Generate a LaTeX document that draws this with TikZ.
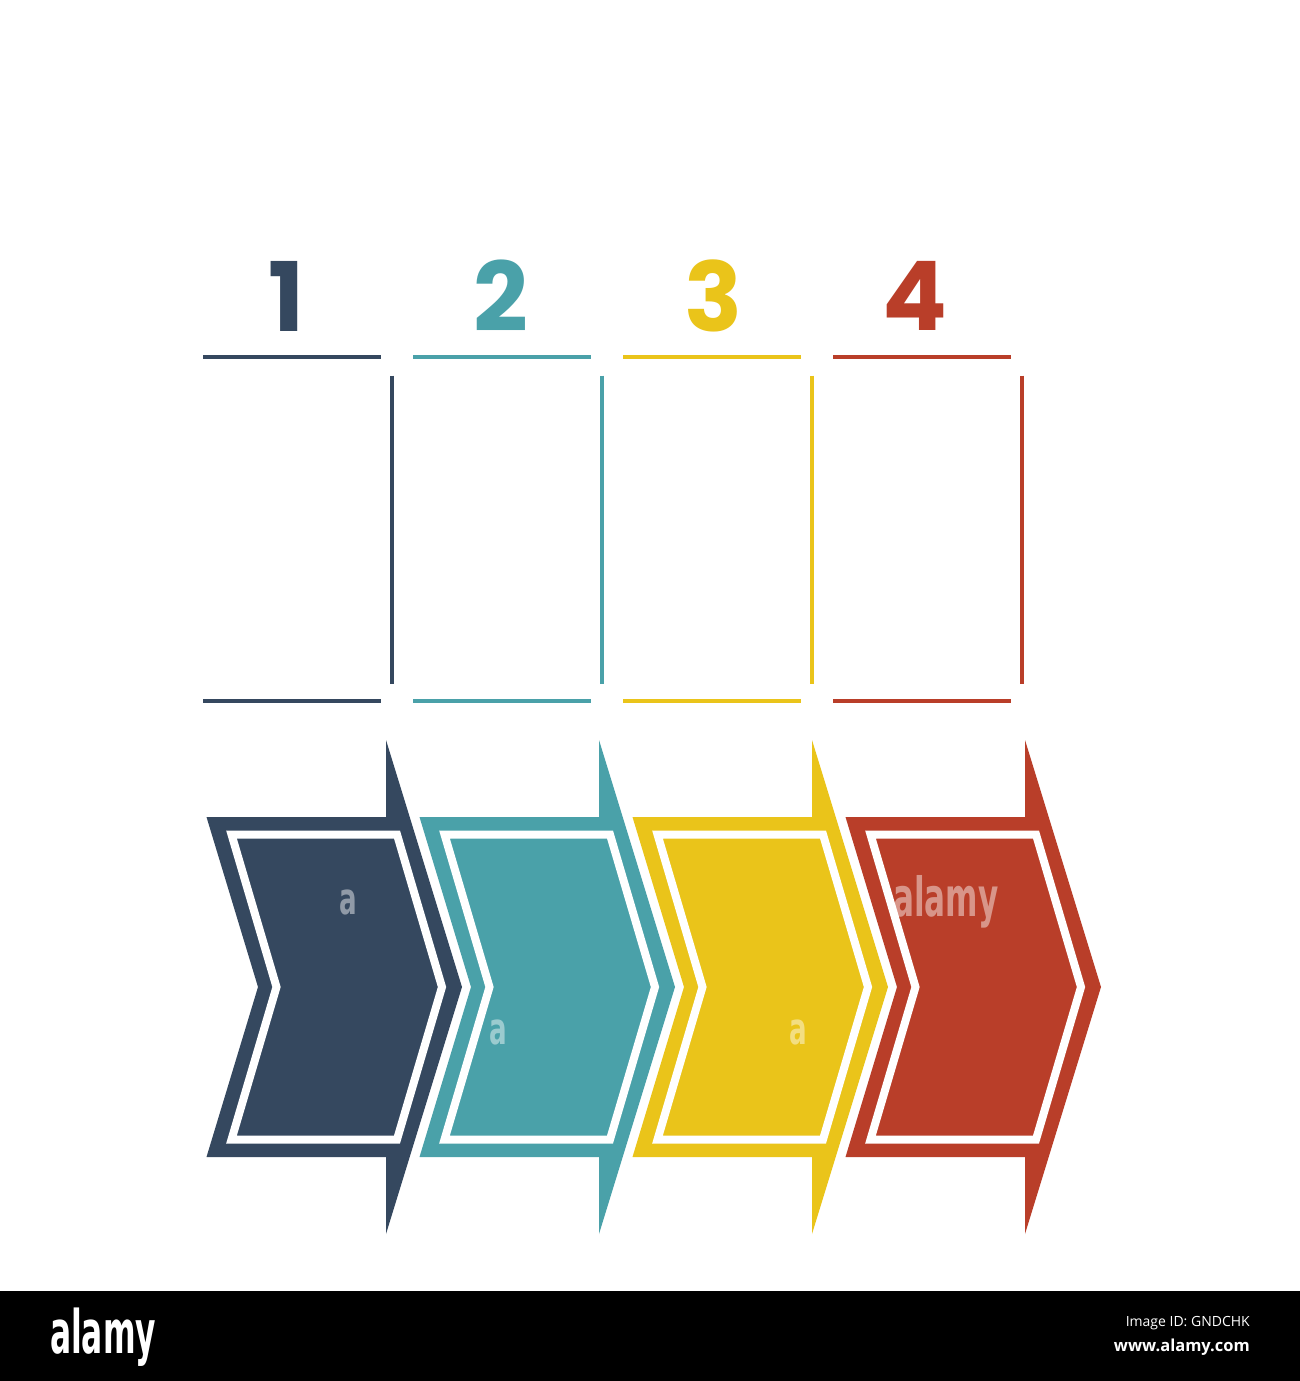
\documentclass[tikz,border=0pt]{standalone}
\usepackage{fontspec}
\newfontfamily\numfont{Poppins}
\newfontfamily\wmfont{DejaVu Sans Condensed}
\newfontfamily\barfont{Open Sans}
\definecolor{cnavy}{HTML}{35485F}
\definecolor{cteal}{HTML}{4AA1A9}
\definecolor{cyellow}{HTML}{EAC41A}
\definecolor{cred}{HTML}{B93E29}
\begin{document}
\begin{tikzpicture}[x=1pt,y=-1pt,
  numlabel/.style={inner sep=0pt, font=\numfont\bfseries\fontsize{96}{96}\selectfont},
  frameline/.style={line width=4pt},
  whiteline/.style={white, line width=8pt, line join=miter},
  wmark/.style={inner sep=0pt, text=white, text opacity=0.45, font=\wmfont\bfseries\fontsize{44}{44}\selectfont, xscale=0.66},
  bartext/.style={inner sep=0pt, text=white, anchor=east}]
\useasboundingbox (0,0) rectangle (1300,1381);
\fill[white] (0,0) rectangle (1300,1381);
% numbers
\node[numlabel, text=cnavy]   (n1) at (287,296) {1};
\node[numlabel, text=cteal]   (n2) at (501,296) {2};
\node[numlabel, text=cyellow] (n3) at (714,296) {3};
\node[numlabel, text=cred]    (n4) at (915,296) {4};
% frames
\foreach \i/\c in {0/cnavy,1/cteal,2/cyellow,3/cred}{
  \begin{scope}[xshift=\i*210]
    \draw[frameline, \c] (203,357) -- (381,357);
    \draw[frameline, \c] (203,701) -- (381,701);
    \draw[frameline, \c] (392,375.5) -- (392,683.5);
  \end{scope}
}
% arrows
\foreach \i/\c in {0/cnavy,1/cteal,2/cyellow,3/cred}{
  \begin{scope}[xshift=\i*213]
    \fill[\c] (206.5,817) -- (258,987) -- (206.5,1157) -- (386,1157) -- (386,1234)
      -- (462,987) -- (386,740) -- (386,817) -- cycle;
    \draw[whiteline] (231.5,834.5) -- (276.5,987) -- (231.5,1139.5) -- (397,1139.5)
      -- (442,987) -- (397,834.5) -- cycle;
  \end{scope}
}
% faint watermarks
\node[wmark] (wa1) at (348,902) {a};
\node[wmark] (wa2) at (498,1032) {a};
\node[wmark] (wa3) at (798,1032) {a};
\node[wmark, font=\wmfont\bfseries\fontsize{54}{54}\selectfont, xscale=0.97] (wa4) at (946,902) {alamy};
% bottom bar
\fill[black] (0,1291) rectangle (1300,1381);
\node[inner sep=0pt, text=white, anchor=west, xscale=0.58,
  font=\wmfont\bfseries\fontsize{60}{60}\selectfont] (logo) at (50,1337) {alamy};
\node[bartext, font=\barfont\fontsize{14}{14}\selectfont] (imgid) at (1250,1323) {Image ID: GNDCHK};
\node[bartext, font=\barfont\bfseries\fontsize{16.5}{16.5}\selectfont] (url) at (1250,1347) {www.alamy.com};
\end{tikzpicture}
\end{document}
